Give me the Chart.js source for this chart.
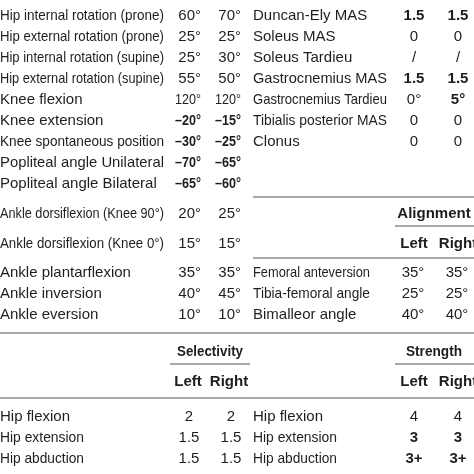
<!DOCTYPE html>
<html lang="en">
  <head>
    <meta charset="UTF-8">
    <title>Clinical examination table</title>
    <script src="https://cdn.jsdelivr.net/npm/chart.js"></script>
    <style>
      body { margin: 0; background: #fff; }
    </style>
  </head>
  <body>
    <canvas id="tableChart" width="474" height="474"></canvas>
    <script>
      // Range of motion (left block)
      const romLabels = ['Hip internal rotation (prone)', 'Hip external rotation (prone)', 'Hip internal rotation (supine)',
        'Hip external rotation (supine)', 'Knee flexion', 'Knee extension', 'Knee spontaneous position',
        'Popliteal angle Unilateral', 'Popliteal angle Bilateral', 'Ankle dorsiflexion (Knee 90°)',
        'Ankle dorsiflexion (Knee 0°)', 'Ankle plantarflexion', 'Ankle inversion', 'Ankle eversion'];
      const romLeft = ['60°', '25°', '25°', '55°', '120°', '–20°', '–30°', '–70°', '–65°', '20°', '15°', '35°', '40°', '10°'];
      const romRight = ['70°', '25°', '30°', '50°', '120°', '–15°', '–25°', '–65°', '–60°', '25°', '15°', '35°', '45°', '10°'];
      const romBold = [false, false, false, false, false, true, true, true, true, false, false, false, false, false];

      // Spasticity (right top block)
      const spasLabels = ['Duncan-Ely MAS', 'Soleus MAS', 'Soleus Tardieu', 'Gastrocnemius MAS', 'Gastrocnemius Tardieu', 'Tibialis posterior MAS', 'Clonus'];
      const spasLeft = ['1.5', '0', '/', '1.5', '0°', '0', '0'];
      const spasRight = ['1.5', '0', '/', '1.5', '5°', '0', '0'];
      const spasBoldL = [true, false, false, true, false, false, false];
      const spasBoldR = [true, false, false, true, true, false, false];

      // Alignment
      const alignLabels = ['Femoral anteversion', 'Tibia-femoral angle', 'Bimalleor angle'];
      const alignLeft = ['35°', '25°', '40°'];
      const alignRight = ['35°', '25°', '40°'];

      // Selectivity / strength
      const selLabels = ['Hip flexion', 'Hip extension', 'Hip abduction'];
      const selLeft = ['2', '1.5', '1.5'];
      const selRight = ['2', '1.5', '1.5'];
      const strLeft = ['4', '3', '3+'];
      const strRight = ['4', '3', '3+'];
      const strBold = [false, true, true];

      // layout (pixel units on 0..474 scales)
      const romRowsY = [16, 37, 58, 79, 100, 121, 142, 163, 184, 214, 244, 273, 294, 315];
      const spasRowsY = [16, 37, 58, 79, 100, 121, 142];
      const alignRowsY = [273, 294, 315];
      const selRowsY = [417, 438, 459];
      const rules = [
        { x: [253, 474], y: 197 }, { x: [395, 474], y: 226 }, { x: [253, 474], y: 258 },
        { x: [0, 474], y: 333 }, { x: [170, 250], y: 364 }, { x: [395, 474], y: 364 },
        { x: [0, 474], y: 398 }
      ];

      const cells = [];
      const add = (text, x, y, align, bold, maxW) => cells.push({ text, x, y, align, bold, maxW });
      romLabels.forEach((t, i) => {
        add(t, 0, romRowsY[i], 'left', false, 164);
        add(romLeft[i], 201, romRowsY[i], 'right', romBold[i], 26);
        add(romRight[i], 241, romRowsY[i], 'right', romBold[i], 26);
      });
      spasLabels.forEach((t, i) => {
        add(t, 253, spasRowsY[i], 'left', false, 134);
        add(spasLeft[i], 414, spasRowsY[i], 'center', spasBoldL[i]);
        add(spasRight[i], 458, spasRowsY[i], 'center', spasBoldR[i]);
      });
      add('Alignment', 434, 214, 'center', true, 76);
      add('Left', 414, 244, 'center', true);
      add('Right', 458, 244, 'center', true, 40);
      alignLabels.forEach((t, i) => {
        add(t, 253, alignRowsY[i], 'left', false, 117);
        add(alignLeft[i], 413, alignRowsY[i], 'center', false);
        add(alignRight[i], 457, alignRowsY[i], 'center', false);
      });
      add('Selectivity', 210, 352, 'center', true, 66);
      add('Left', 188, 382, 'center', true);
      add('Right', 229, 382, 'center', true, 40);
      add('Strength', 434, 352, 'center', true, 56);
      add('Left', 414, 382, 'center', true);
      add('Right', 458, 382, 'center', true, 40);
      selLabels.forEach((t, i) => {
        add(t, 0, selRowsY[i], 'left', false, 84);
        add(selLeft[i], 189, selRowsY[i], 'center', false);
        add(selRight[i], 231, selRowsY[i], 'center', false);
        add(t, 253, selRowsY[i], 'left', false, 84);
        add(strLeft[i], 414, selRowsY[i], 'center', strBold[i]);
        add(strRight[i], 458, selRowsY[i], 'center', strBold[i]);
      });

      const cellText = {
        id: 'cellText',
        afterDatasetsDraw(chart) {
          const { ctx, scales: { x, y } } = chart;
          ctx.save();
          ctx.fillStyle = '#1e1e1e';
          ctx.textBaseline = 'middle';
          cells.forEach(c => {
            ctx.font = (c.bold ? 'bold ' : '') + '15px "Liberation Sans", Arimo, Helvetica, sans-serif';
            ctx.textAlign = c.align;
            const px = x.getPixelForValue(c.x), py = y.getPixelForValue(c.y);
            if (c.maxW && ctx.measureText(c.text).width > c.maxW) {
              ctx.fillText(c.text, px, py, c.maxW);
            } else {
              ctx.fillText(c.text, px, py);
            }
          });
          ctx.restore();
        }
      };

      new Chart(document.getElementById('tableChart'), {
        type: 'line',
        data: {
          datasets: rules.map(r => ({
            data: [{ x: r.x[0], y: r.y }, { x: r.x[1], y: r.y }],
            borderColor: '#a8a8a8',
            borderWidth: 2,
            pointRadius: 0
          }))
        },
        options: {
          responsive: false,
          animation: false,
          layout: { padding: 0 },
          plugins: { legend: { display: false }, tooltip: { enabled: false } },
          scales: {
            x: { type: 'linear', min: 0, max: 474, display: false },
            y: { type: 'linear', min: 0, max: 474, reverse: true, display: false }
          }
        },
        plugins: [cellText]
      });
    </script>
  </body>
</html>
